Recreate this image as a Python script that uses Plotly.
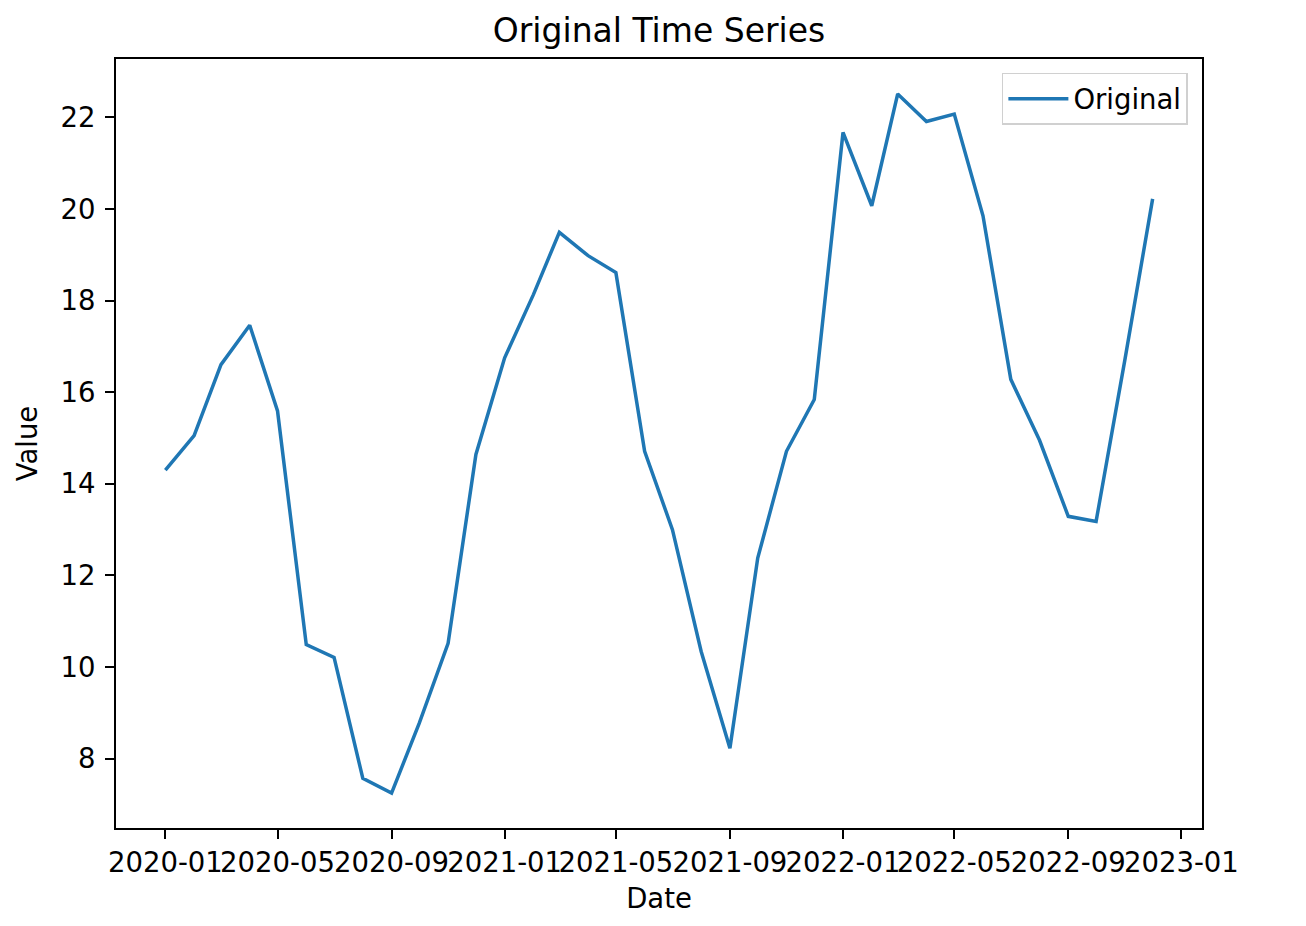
import pandas as pd
import plotly.graph_objects as go

# ---- data ----
dates = pd.date_range("2020-01-01", periods=36, freq="MS")
values = [
    14.30, 15.05, 16.60, 17.46, 15.59, 10.49, 10.21, 7.57, 7.25, 8.78, 10.52, 14.64,
    16.75, 18.13, 19.49, 18.98, 18.61, 14.71, 13.00, 10.34, 8.23, 12.38, 14.71, 15.84,
    21.67, 20.07, 22.51, 21.91, 22.07, 19.85, 16.28, 14.95, 13.29, 13.18, 16.70, 20.22,
]
x_tick_dates = ["2020-01-01", "2020-05-01", "2020-09-01", "2021-01-01", "2021-05-01",
                "2021-09-01", "2022-01-01", "2022-05-01", "2022-09-01", "2023-01-01"]
x_tick_labels = ["2020-01", "2020-05", "2020-09", "2021-01", "2021-05",
                 "2021-09", "2022-01", "2022-05", "2022-09", "2023-01"]
y_ticks = [8, 10, 12, 14, 16, 18, 20, 22]
series_name = "Original"

# ---- autoscale like matplotlib (5% margins) ----
span = dates[-1] - dates[0]
x_range = [dates[0] - span * 0.05, dates[-1] + span * 0.05]
vmin, vmax = min(values), max(values)
y_range = [vmin - (vmax - vmin) * 0.05, vmax + (vmax - vmin) * 0.05]

FONT = "DejaVu Sans"
FS = 27.5
fig = go.Figure()
fig.add_trace(go.Scatter(
    x=dates, y=values, mode="lines", name=series_name,
    line=dict(color="#1f77b4", width=3.5),
))

axis_common = dict(
    showline=True, linecolor="black", linewidth=2, mirror=True,
    ticks="outside", ticklen=9, tickwidth=2, tickcolor="black",
    showgrid=False, zeroline=False, automargin=False,
    tickfont=dict(family=FONT, size=FS, color="black"),
)

H = 918
fig.update_layout(
    width=1298, height=H,
    margin=dict(l=108, r=104, t=51, b=98),
    paper_bgcolor="white", plot_bgcolor="white",
    font=dict(family=FONT, size=FS, color="black"),
    title=dict(text="Original Time Series", x=0.5, xref="paper", xanchor="center",
               y=1 - 22 / H, yref="container", yanchor="middle",
               font=dict(family=FONT, size=33, color="black")),
    xaxis=dict(range=x_range, tickvals=x_tick_dates, ticktext=x_tick_labels,
               tickangle=0,
               title=dict(text="Date", font=dict(family=FONT, size=FS), standoff=12),
               **axis_common),
    yaxis=dict(range=y_range, tickvals=y_ticks, ticklabelstandoff=4,
               title=dict(text="Value", font=dict(family=FONT, size=FS), standoff=15),
               **axis_common),
    legend=dict(x=0.987, xanchor="right", y=0.982, yanchor="top",
                bordercolor="#d0d0d0", borderwidth=1.5, bgcolor="white",
                font=dict(family=FONT, size=FS, color="black"), itemwidth=60),
    showlegend=True,
)

fig.write_html("out.html")
